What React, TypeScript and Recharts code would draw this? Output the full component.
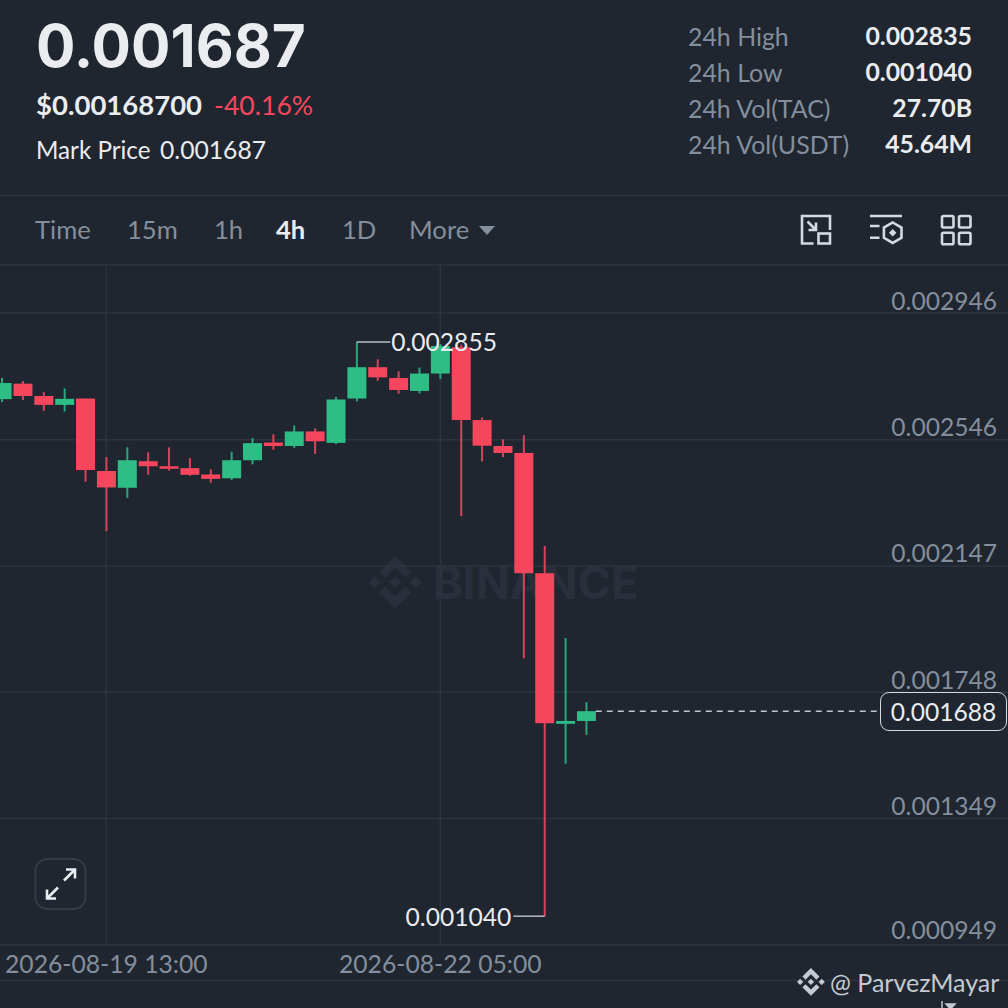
import React from "react";
import { ComposedChart, Bar, XAxis, YAxis, CartesianGrid, ReferenceLine, ReferenceDot } from "recharts";

const FONT = "Lato, 'Noto Sans', sans-serif";
const HEAD_FONT = "Inter, 'Noto Sans', sans-serif";
const BG = "#1f2630";
const GRID = "#2d343f";
const RED = "#f6465d";
const GREEN = "#2ebd85";
const MUTED = "#848e9c";
const LIGHT = "#eaecef";

const opens = [0.002674,0.002723,0.002684,0.002656,0.002676,0.002447,0.002394,0.002478,0.002462,0.002456,0.002436,0.002424,0.002481,0.002537,0.002526,0.002572,0.002536,0.002676,0.002775,0.002741,0.0027,0.002755,0.002838,0.002608,0.002526,0.002504,0.002124,0.001648,0.001657];
const closes = [0.002725,0.002684,0.002656,0.002675,0.00245,0.002395,0.002481,0.002462,0.002454,0.002435,0.002422,0.002481,0.002535,0.002526,0.002572,0.002541,0.002673,0.002775,0.002743,0.002703,0.002755,0.002842,0.002608,0.002527,0.002504,0.002124,0.00165,0.001657,0.001688];
const highs = [0.002741,0.002731,0.002696,0.002708,0.002676,0.002491,0.002522,0.002506,0.002522,0.002488,0.002452,0.002508,0.002551,0.002563,0.002591,0.002582,0.002681,0.002855,0.0028,0.002762,0.002774,0.002848,0.002846,0.002616,0.002547,0.00256,0.00221,0.001919,0.001716];
const lows = [0.002665,0.002671,0.002637,0.002635,0.002413,0.002257,0.002362,0.002435,0.002448,0.002432,0.00241,0.002419,0.002468,0.002514,0.00252,0.002501,0.002532,0.002667,0.002732,0.002691,0.002692,0.002738,0.002304,0.002477,0.002491,0.001855,0.00104,0.001522,0.001613];

const priceTicks = [0.002946, 0.002546, 0.002147, 0.001748, 0.001349, 0.000949];
const timeTicks = [5, 21];
const timeLabels: Record<number, string> = { 5: "2026-08-19 13:00", 21: "2026-08-22 05:00" };
const stats = [
  ["24h High", "0.002835"],
  ["24h Low", "0.001040"],
  ["24h Vol(TAC)", "27.70B"],
  ["24h Vol(USDT)", "45.64M"],
];
const tabs: [string, number, boolean][] = [
  ["Time", 35, false],
  ["15m", 127, false],
  ["1h", 214, false],
  ["4h", 276, true],
  ["1D", 342, false],
  ["More", 409, false],
];

const candles = opens.map((open, i) => ({ i, open, close: closes[i], high: highs[i], low: lows[i] }));

const LOGO =
  "M38.73 53.2l24.59-24.58 24.6 24.6 14.3-14.31L63.32 0 24.43 38.9l14.3 14.3zM0 63.31l14.3-14.31 14.31 14.31-14.31 14.3zM38.73 73.41l24.59 24.59 24.6-24.6 14.31 14.29-38.9 38.91-38.91-38.88-.02-.02zM98 63.31l14.3-14.31 14.31 14.3-14.31 14.32zM77.83 63.3L63.32 48.78 52.59 59.51l-1.24 1.23-2.54 2.54 14.51 14.5 14.51-14.47z";

function Candle(props: any) {
  const { x, y, width, height, payload } = props;
  const { open, close, high, low } = payload;
  const top = Math.min(y, y + height);
  const k = Math.abs(height) / (high - low);
  const up = close >= open;
  const bodyTop = top + (high - Math.max(open, close)) * k;
  const bodyH = Math.max(Math.abs(open - close) * k, 2);
  const cx = x + width / 2;
  return (
    <g>
      <rect x={cx - 1} y={top} width={2} height={Math.abs(height)} fill={up ? "#2aa67a" : "#d9435a"} />
      <rect x={x} y={bodyTop} width={width} height={bodyH} fill={up ? GREEN : RED} />
    </g>
  );
}

const YTick = (props: any) => {
  const { y, payload } = props;
  return (
    <text x={997} y={y - (payload.value < 0.001 ? 16 : 13)} textAnchor="end" dominantBaseline="central" fill={MUTED} fontSize={24.6} fontFamily={FONT}>
      {payload.value.toFixed(6)}
    </text>
  );
};

const XTick = (props: any) => {
  const { x, y, payload } = props;
  return (
    <text x={x} y={y + 18} textAnchor="middle" dominantBaseline="central" fill={MUTED} fontSize={24.7} fontFamily={FONT}>
      {timeLabels[payload.value]}
    </text>
  );
};

const note = (text: string, anchor: "start" | "end") => (p: any) => (
  <text x={p.cx} y={p.cy} textAnchor={anchor} dominantBaseline="central" fill={LIGHT} fontSize={24.6} fontFamily={FONT}>
    {text}
  </text>
);

const Txt = ({ x, y, right, size = 24.6, weight = 400, color = LIGHT, font = FONT, children }: any) => (
  <div
    style={{
      position: "absolute",
      ...(right !== undefined ? { right } : { left: x }),
      top: y,
      transform: "translateY(-50%)",
      fontSize: size,
      fontWeight: weight,
      color,
      fontFamily: font,
      whiteSpace: "nowrap",
      lineHeight: 1,
    }}
  >
    {children}
  </div>
);

export default function App() {
  return (
    <div style={{ position: "absolute", left: 0, top: 0, width: 1008, height: 1008, background: BG, overflow: "hidden" }}>
      <svg width={1008} height={1008} style={{ position: "absolute", left: 0, top: 0 }}>
        <line x1={0} x2={1008} y1={195.5} y2={195.5} stroke={GRID} strokeWidth={1.5} />
        <line x1={0} x2={1008} y1={265} y2={265} stroke={GRID} strokeWidth={1.5} />
        <line x1={0} x2={1008} y1={980.5} y2={980.5} stroke={GRID} strokeWidth={1.5} />
        <path d={LOGO} fill="#2a303b" transform="translate(369 556) scale(0.415)" />
        <text x={433} y={582} dominantBaseline="central" fill="#2a303b" fontSize={45} fontWeight={700} fontFamily={HEAD_FONT}>
          BINANCE
        </text>
        <path d="M479 226h16l-8 9z" fill={MUTED} />
        <g fill="none" stroke="#d5d9df" strokeWidth={2.6}>
          <path d="M830 230V216H802V243.5H813.5" />
          <rect x={818.5} y={233.5} width={11.5} height={10} />
          <path d="M807.5 221.5L816 230M816 222.5V230H808.5" />
          <path d="M870 216H902M870 226H879.5M870 237.7H879.5" />
          <path d="M892.7 222.5L901.5 227.6V237.8L892.7 242.9L883.9 237.8V227.6Z" />
          <rect x={942} y={216} width={11.5} height={11.5} rx={1.5} />
          <rect x={959} y={216} width={11.5} height={11.5} rx={1.5} />
          <rect x={942} y={232.8} width={11.5} height={11.5} rx={1.5} />
          <rect x={959} y={232.8} width={11.5} height={11.5} rx={1.5} />
        </g>
        <path d="M892.7 229l3.7 3.7-3.7 3.7-3.7-3.7z" fill="#d5d9df" />
      </svg>

      <Txt x={36} y={46} size={58.5} weight={700} font={HEAD_FONT}>0.001687</Txt>
      <Txt x={36} y={105} size={27.5} weight={700}>$0.00168700</Txt>
      <Txt x={214} y={105} size={26.6} color={RED}>-40.16%</Txt>
      <Txt x={36} y={150} size={24.2}>Mark Price</Txt>
      <Txt x={160} y={150} size={24.7}>0.001687</Txt>
      {stats.map(([label, value], i) => (
        <React.Fragment key={label}>
          <Txt x={688} y={36 + i * 36} size={24.9} color={MUTED}>{label}</Txt>
          <Txt right={36} y={36 + i * 36} size={24.8} weight={700}>{value}</Txt>
        </React.Fragment>
      ))}
      {tabs.map(([label, x, active]) => (
        <Txt key={label} x={x} y={230} size={25.6} weight={active ? 700 : 400} color={active ? LIGHT : MUTED}>{label}</Txt>
      ))}

      <div style={{ position: "absolute", left: 0, top: 0 }}>
        <ComposedChart width={1008} height={1008} data={candles} margin={{ top: 265, right: -1, bottom: 0, left: 0 }}>
          <CartesianGrid stroke={GRID} strokeWidth={1.5} syncWithTicks />
          <XAxis
            dataKey="i"
            type="number"
            domain={[-0.096, 48.2]}
            allowDataOverflow
            ticks={timeTicks}
            height={63}
            tick={<XTick />}
            tickLine={false}
            axisLine={false}
            tickSize={0}
            tickMargin={0}
            interval={0}
          />
          <YAxis
            type="number"
            orientation="right"
            domain={[0.000949, 0.003098]}
            allowDataOverflow
            ticks={priceTicks}
            width={1}
            tick={<YTick />}
            tickLine={false}
            axisLine={false}
            tickSize={0}
            tickMargin={0}
            interval={0}
          />
          <Bar dataKey={(d: any) => [d.low, d.high]} barSize={19} shape={<Candle />} isAnimationActive={false} />
          <ReferenceLine segment={[{ x: 17, y: highs[17] }, { x: 18.6, y: highs[17] }]} stroke="#b7bdc6" strokeWidth={1.5} />
          <ReferenceLine segment={[{ x: 24.5, y: lows[26] }, { x: 26, y: lows[26] }]} stroke="#b7bdc6" strokeWidth={1.5} />
          <ReferenceLine segment={[{ x: 28.45, y: closes[28] }, { x: 42.1, y: closes[28] }]} stroke="#c0c4cc" strokeWidth={1.5} strokeDasharray="6 5" />
          <ReferenceDot x={18.65} y={highs[17]} r={0} shape={note("0.002855", "start")} />
          <ReferenceDot x={24.4} y={lows[26]} r={0} shape={note("0.001040", "end")} />
        </ComposedChart>
      </div>

      <div style={{ position: "absolute", left: 880, top: 692, width: 125, height: 37, border: "1.5px solid #d5d9df", borderRadius: 9, background: BG, color: LIGHT, fontFamily: FONT, fontSize: 24.6, lineHeight: "37px", textAlign: "center" }}>
        0.001688
      </div>

      <svg width={1008} height={1008} style={{ position: "absolute", left: 0, top: 0, pointerEvents: "none" }}>
        <rect x={35.5} y={859} width={50} height={50} rx={12} fill="none" stroke="#343b47" strokeWidth={2} />
        <g fill="none" stroke="#eaecef" strokeWidth={2.6}>
          <path d="M64 880.5L75 869.5M66 869.5H75V878.5" />
          <path d="M58 887.5L47 898.5M47 889.5V898.5H56" />
        </g>
        <path d={LOGO} fill="#c5cad1" transform="translate(797 968) scale(0.22)" />
        <path d="M942 1001V1008M946 1004h9l-4.5 5z" stroke="#c5cad1" strokeWidth={1.5} fill="#c5cad1" />
      </svg>
      <Txt x={830} y={982} size={25} color="#c5cad1">@ ParvezMayar</Txt>
    </div>
  );
}
